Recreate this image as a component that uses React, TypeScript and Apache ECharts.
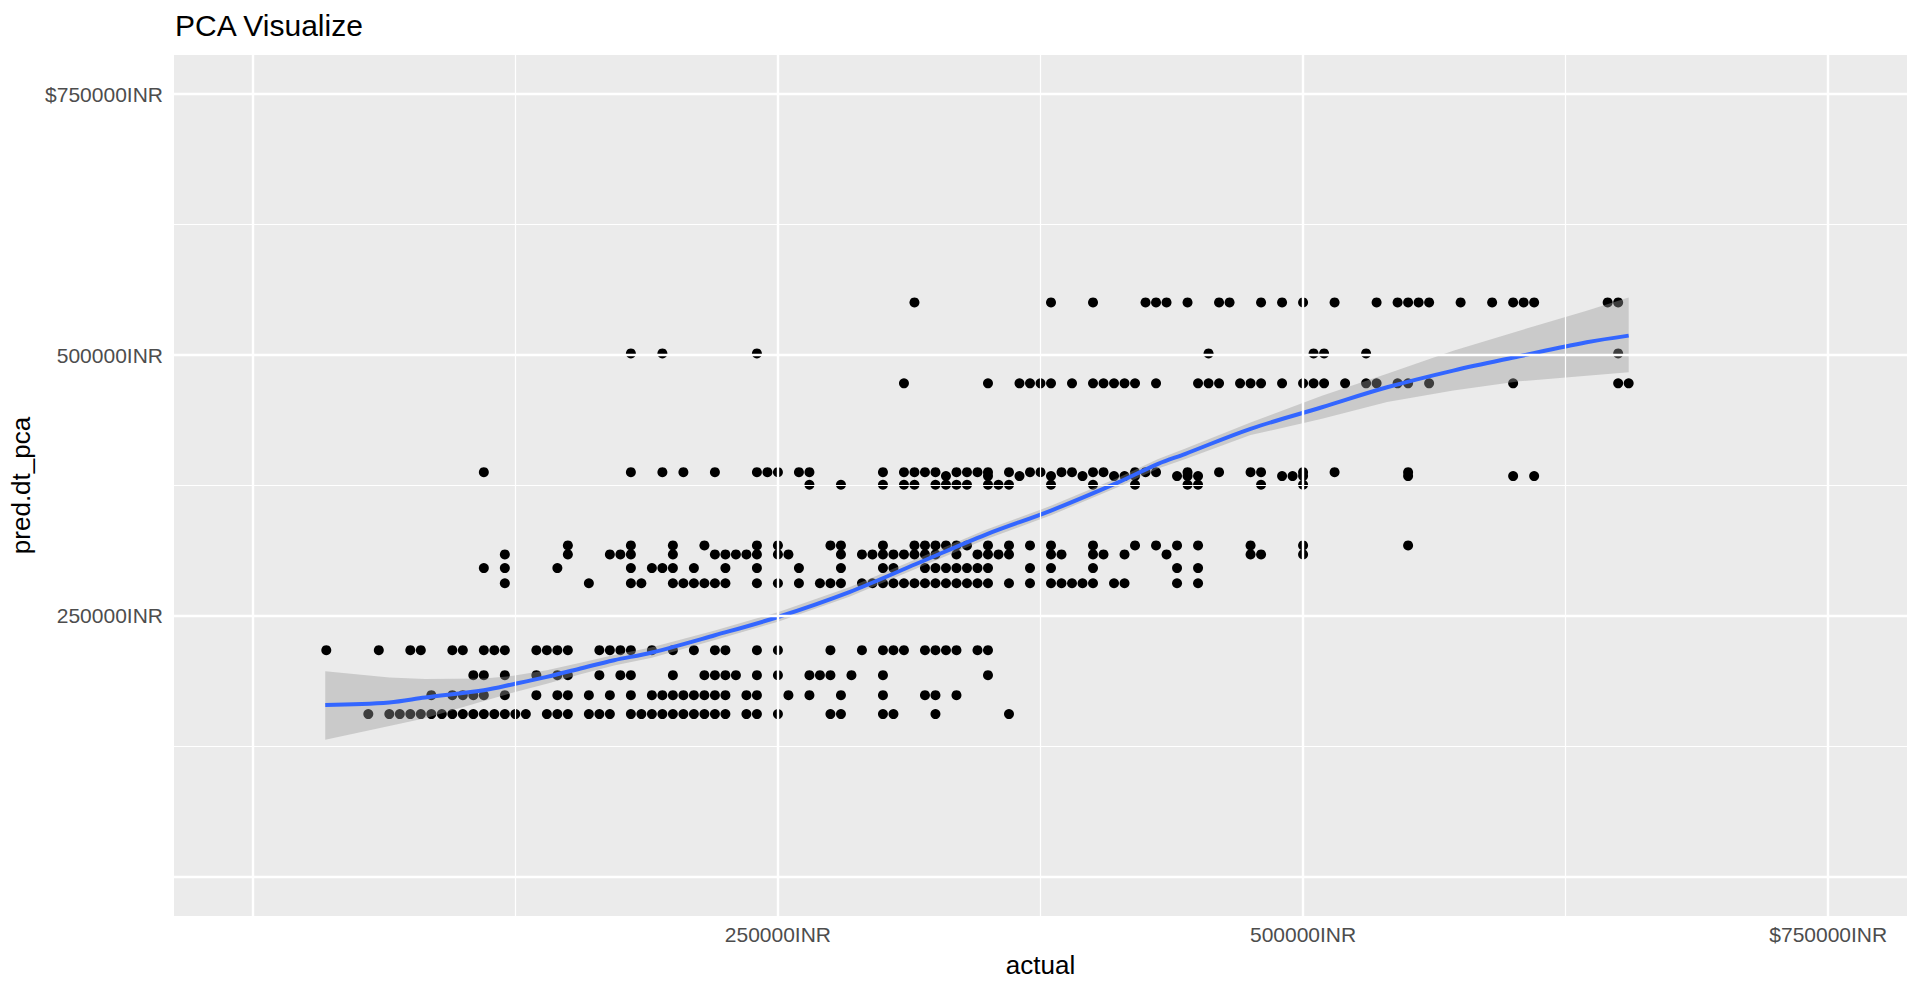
import React, { useEffect, useRef } from "react";
import * as echarts from "echarts";

const FONT = '"Liberation Sans", Arial, Helvetica, sans-serif';

// Discrete predicted levels (pred.dt_pca, INR)
const yLevels = [550400, 501600, 472900, 387800, 384000, 375700, 317600, 309000, 295900, 281300, 217200, 193300, 174100, 156000];

// Actual values (thousand INR) of the points sitting on each predicted level
const r550 = [315, 380, 400, 425, 430, 435, 445, 460, 465, 480, 490, 500, 515, 535, 545, 550, 555, 560, 575, 590, 600, 605, 610, 645, 650];
const r502 = [180, 195, 240, 455, 505, 510, 530, 650];
const r473 = [310, 350, 365, 370, 375, 380, 390, 400, 405, 410, 415, 420, 430, 450, 455, 460, 470, 475, 480, 490, 500, 505, 510, 520, 530, 535, 545, 550, 560, 600, 650, 655];
const r388 = [110, 180, 195, 205, 220, 240, 245, 250, 260, 265, 300, 310, 315, 320, 325, 335, 340, 345, 350, 360, 370, 375, 385, 390, 400, 405, 420, 425, 430, 445, 460, 475, 480, 500, 515, 550];
const r384 = [330, 350, 365, 380, 395, 410, 415, 420, 440, 445, 450, 490, 495, 500, 550, 600, 610];
const r376 = [265, 280, 300, 310, 315, 325, 330, 335, 340, 350, 355, 360, 380, 400, 420, 445, 450, 480, 500];
const r318 = [150, 180, 200, 215, 240, 250, 275, 280, 300, 315, 320, 325, 330, 335, 340, 350, 360, 370, 380, 400, 420, 430, 440, 450, 475, 500, 550];
const r309 = [120, 150, 170, 175, 180, 200, 220, 225, 230, 235, 240, 250, 255, 280, 290, 295, 300, 305, 310, 315, 320, 325, 335, 345, 350, 355, 360, 380, 385, 400, 405, 415, 435, 475, 480, 500];
const r296 = [110, 120, 145, 180, 190, 195, 200, 210, 225, 240, 260, 280, 300, 305, 320, 325, 330, 335, 340, 345, 350, 370, 380, 400, 440, 450];
const r281 = [120, 160, 180, 185, 200, 205, 210, 215, 220, 225, 240, 250, 260, 270, 275, 280, 290, 295, 300, 305, 310, 315, 320, 325, 330, 335, 340, 345, 350, 360, 370, 380, 385, 390, 395, 400, 410, 415, 440, 450];
const r217 = [35, 60, 75, 80, 95, 100, 110, 115, 120, 135, 140, 145, 150, 165, 170, 175, 180, 190, 200, 210, 220, 225, 240, 250, 275, 290, 300, 305, 310, 320, 325, 330, 335, 345, 350];
const r193 = [105, 110, 120, 135, 145, 150, 165, 175, 180, 200, 215, 220, 225, 230, 240, 250, 265, 270, 275, 285, 300, 350];
const r174 = [85, 95, 100, 105, 110, 120, 135, 145, 150, 160, 170, 180, 190, 195, 200, 205, 210, 215, 220, 225, 235, 240, 255, 265, 280, 300, 320, 325, 335];
const r156 = [55, 65, 70, 75, 80, 85, 90, 95, 100, 105, 110, 115, 120, 125, 130, 140, 145, 150, 160, 165, 170, 180, 185, 190, 195, 200, 205, 210, 215, 220, 225, 235, 240, 250, 275, 280, 300, 305, 325, 360];
const rowsByLevel = [r550, r502, r473, r388, r384, r376, r318, r309, r296, r281, r217, r193, r174, r156];

// Loess smooth line and its confidence band
const smoothX = [34500, 65000, 82000, 110000, 124000, 140000, 156000, 172000, 190000, 220000, 250000, 284000, 316000, 349000, 380000, 412000, 431000, 444000, 475000, 509000, 540000, 571500, 603000, 635000, 655000];
const smoothY = [164600, 167100, 171800, 178900, 184600, 191600, 199700, 207600, 215000, 231500, 249000, 272900, 300000, 328000, 351000, 378000, 395800, 405400, 429300, 450000, 469100, 485100, 498800, 512200, 518600];
const bandUpper = [197000, 191000, 189500, 190000, 192600, 198000, 205200, 212600, 220000, 236000, 253500, 277400, 304500, 332500, 355500, 382500, 400300, 410400, 435300, 461000, 482000, 504200, 523300, 542500, 555200];
const bandLower = [131500, 144500, 152000, 168500, 176600, 185000, 194200, 202600, 210000, 227000, 244500, 268400, 295500, 323500, 346500, 373500, 391300, 400400, 423300, 439000, 455000, 466000, 474800, 480200, 483400];

const xTickValues = [250000, 500000, 750000];
const xTickLabels = ["250000INR", "500000INR", "$750000INR"];
const yTickValues = [250000, 500000, 750000];
const yTickLabels = ["250000INR", "500000INR", "$750000INR"];
const majorGrid = [0, 250000, 500000, 750000];
const minorGrid = [125000, 375000, 625000];

export default function App() {
  const ref = useRef<HTMLDivElement>(null);
  useEffect(() => {
    const chart = echarts.init(ref.current!, null, { renderer: "svg" });
    const points: number[][] = [];
    rowsByLevel.forEach((row, i) => row.forEach((xk) => points.push([xk * 1000, yLevels[i]])));

    const gridLineData: any[] = [];
    majorGrid.forEach((v) => {
      gridLineData.push({ xAxis: v, lineStyle: { color: "#FFFFFF", width: 2.4, type: "solid" } });
      gridLineData.push({ yAxis: v, lineStyle: { color: "#FFFFFF", width: 2.4, type: "solid" } });
    });
    minorGrid.forEach((v) => {
      gridLineData.push({ xAxis: v, lineStyle: { color: "#FFFFFF", width: 1.2, type: "solid" } });
      gridLineData.push({ yAxis: v, lineStyle: { color: "#FFFFFF", width: 1.2, type: "solid" } });
    });

    const tickLabelStyle = { color: "#4D4D4D", fontSize: 21, fontFamily: FONT };

    chart.setOption({
      animation: false,
      backgroundColor: "#FFFFFF",
      title: {
        text: "PCA Visualize",
        left: 175,
        top: 10,
        padding: 0,
        textStyle: { fontSize: 30, fontWeight: "normal", color: "#000000", fontFamily: FONT },
      },
      grid: {
        left: 174,
        top: 55,
        width: 1733,
        height: 861,
        show: true,
        backgroundColor: "#EBEBEB",
        borderWidth: 0,
        containLabel: false,
      },
      xAxis: {
        type: "value",
        min: -37500,
        max: 787500,
        splitLine: { show: false },
        axisLine: { show: false },
        axisTick: { show: true, length: 6, lineStyle: { color: "#333333", width: 2 }, customValues: xTickValues },
        axisLabel: {
          ...tickLabelStyle,
          margin: 8,
          customValues: xTickValues,
          formatter: (v: number) => {
            const i = xTickValues.indexOf(v);
            return i >= 0 ? xTickLabels[i] : "";
          },
        },
        name: "actual",
        nameLocation: "middle",
        nameGap: 36,
        nameTextStyle: { fontSize: 26, color: "#000000", fontFamily: FONT },
      },
      yAxis: {
        type: "value",
        min: -37500,
        max: 787500,
        splitLine: { show: false },
        axisLine: { show: false },
        axisTick: { show: true, length: 6, lineStyle: { color: "#333333", width: 2 }, customValues: yTickValues },
        axisLabel: {
          ...tickLabelStyle,
          margin: 11,
          customValues: yTickValues,
          formatter: (v: number) => {
            const i = yTickValues.indexOf(v);
            return i >= 0 ? yTickLabels[i] : "";
          },
        },
        name: "pred.dt_pca",
        nameLocation: "middle",
        nameGap: 132,
        nameTextStyle: { fontSize: 26, color: "#000000", fontFamily: FONT },
      },
      series: [
        {
          type: "line",
          data: [],
          z: 1,
          silent: true,
          markLine: {
            silent: true,
            symbol: ["none", "none"],
            label: { show: false },
            animation: false,
            data: gridLineData,
          },
        },
        {
          type: "scatter",
          data: points,
          symbol: "circle",
          symbolSize: 10,
          itemStyle: { color: "#000000", opacity: 1 },
          z: 2,
        },
        {
          type: "custom",
          z: 3,
          data: [[smoothX[0], smoothY[0]]],
          encode: { x: 0, y: 1 },
          renderItem: (params: any, api: any) => {
            const upper = smoothX.map((x, i) => api.coord([x, bandUpper[i]]));
            const lower = smoothX.map((x, i) => api.coord([x, bandLower[i]])).reverse();
            return {
              type: "polygon",
              shape: { points: upper.concat(lower) },
              style: { fill: "rgba(153,153,153,0.4)", stroke: "none" },
            };
          },
        },
        {
          type: "line",
          z: 4,
          data: smoothX.map((x, i) => [x, smoothY[i]]),
          smooth: 0.35,
          showSymbol: false,
          symbol: "none",
          lineStyle: { color: "#3366FF", width: 4 },
        },
      ],
    });
    return () => chart.dispose();
  }, []);
  return <div ref={ref} style={{ position: "fixed", left: 0, top: 0, width: 1920, height: 988 }} />;
}
